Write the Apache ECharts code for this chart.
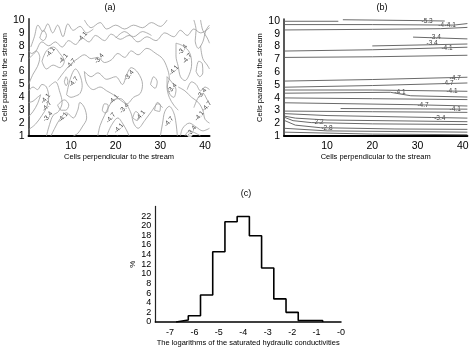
<!DOCTYPE html>
<html><head><meta charset="utf-8">
<script src="https://cdn.jsdelivr.net/npm/echarts@6/dist/echarts.min.js"></script>
<style>html,body{margin:0;padding:0;background:#fff}#c{width:474px;height:349px}</style>
</head><body><div id="c"></div>
<script>
// ---- data ----
const xTicksAB = [10, 20, 30, 40];
const yTicksAB = [1, 2, 3, 4, 5, 6, 7, 8, 9, 10];

// (a) contour lines (cell coordinates)
const contoursA = [
  [[1,7.9],[1.8,8.7],[2.6,9.6],[3.7,9.1],[4.8,9.7],[5.9,9.0],[7,9.6],[8.2,8.7],[9.3,9.7],[10.5,9.2],[12,9.5],[13.5,9.0],[15,9.3]],
  [[13,10],[14.5,9.4],[16.5,9.8],[18,9.3],[20,9.6],[22,9.3],[24,9.6],[26,9.4],[28,9.8],[30,9.5],[31.5,10]],
  [[0.5,7.0],[2,7.5],[3.5,8.3],[5,8.0],[6.5,8.3],[8,7.9],[9.5,8.4],[11,8.1],[12.5,8.6],[14,8.3],[15.5,8.8],[17.5,8.4],[19,8.9],[21,8.5],[23,8.8],[25,8.3],[27,8.7],[29,8.4],[31,9.0],[33,8.7],[34.5,9.2],[36,8.8],[37.5,9.3],[39,9.0],[41,9.4]],
  [[3.5,6.8],[4.5,7.6],[6,7.9],[7.5,7.4],[8.5,6.8],[7.5,6.3],[6,6.5],[4.5,6.2],[3.5,6.8]],
  [[0.5,5.0],[1.5,5.8],[2.5,6.4],[3,7.1],[2.2,7.6],[1.2,7.4],[0.5,7.6]],
  [[7,5.3],[8.5,6.0],[10,6.6],[11.5,7.0],[13,7.3],[14.5,7.0],[16,7.1],[17.5,6.7],[19,6.9],[20.5,7.4],[22,7.1],[23.5,7.6],[25,7.3],[27,7.8],[29,7.4],[30.5,7.0],[31.5,6.3],[32,5.5],[31.5,4.8],[32,4.0],[33,3.4],[34,3.0]],
  [[9,4.2],[9.5,5.0],[10.2,5.8],[11,6.2],[12,5.7],[12.5,4.9],[12,4.3],[11,4.1],[10,4.0],[9,4.2]],
  [[13,6.0],[14.5,5.6],[16,5.9],[18,5.4],[20,5.6],[21.5,5.0],[22.5,5.8],[23.5,6.3],[25,5.9],[26,5.0],[25.5,4.3],[24,4.0],[22.5,3.5],[21,3.8],[19.5,4.2],[18,4.5],[16.5,4.8],[15,4.6],[13.5,5.1],[13,6.0]],
  [[27.8,5.0],[28.5,5.6],[29.3,5.2],[28.8,4.7],[27.8,5.0]],
  [[8.5,5.2],[8.9,5.6],[9.3,5.2],[8.9,4.9],[8.5,5.2]],
  [[38,6.0],[38.6,6.8],[39.4,6.6],[39.5,5.9],[38.8,5.6],[38,6.0]],
  [[37.5,10],[38,9.2],[37.8,8.4],[38.5,7.8],[39.5,8.3],[40.2,9.2],[41,9.6]],
  [[39,10],[39.5,9.2],[40.5,8.6],[41,8.2]],
  [[33.5,8.2],[35,8.0],[36.5,7.5],[37,6.6],[36.5,5.8],[35.5,5.3],[34.5,5.6],[34,6.4],[33.5,7.2],[33.5,8.2]],
  [[34,4.8],[35.5,4.5],[37,4.0],[38.5,3.6],[39.5,3.0],[40,2.3],[41,2.0]],
  [[30,1.0],[30.5,2.0],[31,2.9],[32,3.3],[33,2.8],[33.5,2.0],[33.8,1.0]],
  [[34.5,1.0],[35,1.6],[36.5,2.0],[38,1.7],[39.5,1.4],[41,1.6]],
  [[35.5,1.0],[36.5,1.4],[38,1.2],[39,1.0]],
  [[0.5,1.5],[2,1.9],[3.5,2.6],[4.5,3.2],[5,4.0],[4.5,4.8],[3.5,5.0],[2.5,4.6],[1.5,4.8],[0.5,4.5]],
  [[0.5,2.5],[1.5,2.9],[2.5,3.5],[3.2,4.2],[2.5,4.0],[1.5,3.7],[0.5,3.6]],
  [[5.5,1.0],[6.5,1.7],[7.5,2.3],[9,2.8],[10.5,2.4],[11.5,3.0],[12,3.6],[13,3.2],[13.5,2.4],[12.5,1.7],[11.5,1.2],[10.5,1.0]],
  [[7,3.4],[8.5,3.8],[9.5,3.4],[8.8,3.0],[7.8,3.0],[7,3.4]],
  [[16,1.0],[16.5,1.8],[17.5,2.6],[18.5,3.3],[19.5,3.8],[21,3.9],[22.5,3.4],[23.5,2.7],[24,2.0],[25,1.6],[26.5,2.2],[28,2.9],[29.5,3.5],[30.5,3.2]],
  [[18,1.0],[19,1.8],[20.5,2.4],[21.5,2.0],[22.5,1.4],[23,1.0]],
  [[17,3.0],[17.5,3.5],[18.3,3.4],[18.2,2.9],[17.5,2.8],[17,3.0]],
  [[23.8,2.4],[24.5,2.9],[25.3,2.6],[24.8,2.2],[23.8,2.4]],
  [[28.7,3.0],[29.3,3.6],[30,3.4],[29.8,2.9],[28.7,3.0]],
  [[31.5,5.6],[32.5,5.2],[33.5,4.6],[33,4.0],[32.2,4.2],[31.5,5.0],[31.5,5.6]],
  [[3,8.6],[3.8,9.2],[4.5,8.8],[3.8,8.4],[3,8.6]],
  [[20,8.6],[22,9.1],[24,8.7],[26,9.1],[28,8.8]],
  [[39,8],[39.5,7],[40.5,6.5],[41,6.2]],
  [[36,4.6],[37,5.2],[38,5.0],[39,4.5],[40,4.8],[41,4.6]],
  [[37.5,3.2],[38.5,4.0],[39.5,4.3],[40.5,3.8],[41,3.5]],
  [[5,4.8],[6.5,5.2],[7.5,4.4],[8,3.6],[7.2,2.9],[6,2.6],[5.2,1.9],[4.5,1.0]]
];
const labelsA = [
  [5.4,7.5,'-4.1'],[12.6,8.7,'-4.1'],[8.3,7.0,'-4.1'],[10.0,6.6,'-4.7'],[16.3,7.0,'-3.4'],
  [35,7.7,'-3.4'],[36,7.0,'-4.7'],[33,6.1,'-4.1'],[23,5.7,'-3.4'],[10.6,5.2,'-4.7'],
  [32.6,4.7,'-3.4'],[4.3,3.9,'-4.1'],[4.6,3.3,'-4.7'],[4.8,2.5,'-3.4'],[8.2,2.45,'-4.1'],
  [19.6,3.85,'-4.1'],[21.9,3.15,'-3.4'],[18.9,2.4,'-4.7'],[25.6,2.6,'-4.1'],[20.7,1.6,'-4.1'],
  [31.9,2.1,'-4.7'],[38.7,2.55,'-4.1'],[39.3,4.3,'-3.4'],[40.4,3.3,'-4.7'],[37,1.4,'-3.4']
];

// (b) contour lines
const contoursB = [
  [[0.7,9.98],[12.5,9.98]],
  [[13.5,10.1],[31,10.03],[36,10.0]],
  [[0.7,9.72],[20,9.72],[38,9.68],[41,9.8]],
  [[0.7,9.3],[20,9.35],[35,9.4],[41,9.5]],
  [[29,8.74],[41,8.6]],
  [[20,8.05],[41,8.2]],
  [[0.7,7.65],[20,7.75],[41,7.95]],
  [[0.7,7.15],[20,7.2],[41,7.32]],
  [[0.7,5.3],[20,5.42],[41,5.6]],
  [[0.7,4.82],[20,4.95],[41,5.15]],
  [[0.7,4.6],[20,4.6],[41,4.5]],
  [[0.7,4.35],[24,4.42],[28.5,4.15],[41,4.05]],
  [[0.7,3.98],[20,3.92],[41,3.85]],
  [[0.7,3.6],[29,3.45],[41,3.35]],
  [[13,3.15],[41,3.1]],
  [[0.7,2.95],[20,2.9],[41,2.85]],
  [[0.7,2.75],[10,2.6],[33,2.45],[41,2.4]],
  [[0.7,2.55],[3,2.4],[10,2.25],[41,2.12]],
  [[0.7,2.45],[2.5,2.2],[6.5,2.05],[20,1.95],[41,1.9]],
  [[0.7,2.2],[3,1.85],[8.5,1.65],[25,1.55],[41,1.52]],
  [[0.7,1.6],[10,1.4],[41,1.3]],
  [[0.7,1.3],[20,1.15],[41,1.1]]
];
const labelsB = [
  [32.1,10.0,'-5.3'],[35.8,9.64,'-4.7'],[37.2,9.68,'-4.1'],[33.9,8.77,'-3.4'],[33.2,8.26,'-3.4'],
  [36.5,7.85,'-4.1'],[38.3,5.55,'-4.7'],[36.7,5.12,'-4.7'],[37.6,4.52,'-4.1'],[26.1,4.42,'-4.1'],
  [31.2,3.43,'-4.7'],[38.3,3.1,'-4.1'],[34.9,2.42,'-3.4'],[8,2.05,'-2.2'],[10,1.62,'-2.8']
];

// (c) histogram
const histEdges = [-6.75,-6.25,-5.75,-5.25,-4.75,-4.25,-3.75,-3.25,-2.75,-2.25,-1.75,-1.25,-0.75];
const histValues = [0.4,1.3,5.6,14.6,20.8,21.9,17.9,11.2,4.8,2.0,0.3,0.3];
const histYTicks = [0,2,4,6,8,10,12,14,16,18,20,22];
const histXTicks = [-7,-6,-5,-4,-3,-2,-1,0];

// ---- build ----
const FONT = 'Liberation Sans, Arial, sans-serif';
const chart = echarts.init(document.getElementById('c'), null, {renderer: 'canvas'});

function abX(grid, name) {
  return {
    gridIndex: grid, type: 'value', min: 0.5, max: 41,
    axisLine: {show: true, onZero: false, lineStyle: {color: '#000', width: 2}},
    axisTick: {show: false}, splitLine: {show: false},
    axisLabel: {customValues: xTicksAB, fontSize: 10.5, color: '#000', margin: 5, fontFamily: FONT},
    name: name, nameLocation: 'middle', nameGap: 16,
    nameTextStyle: {fontSize: 7.5, color: '#000', fontFamily: FONT}
  };
}
function abY(grid, max) {
  return {
    gridIndex: grid, type: 'value', min: 1, max: max,
    axisLine: {show: true, onZero: false, lineStyle: {color: '#222', width: 1.5}},
    axisTick: {show: false}, splitLine: {show: false},
    axisLabel: {customValues: yTicksAB, fontSize: 10.5, color: '#000', margin: 4, fontFamily: FONT},
    name: 'Cells parallel to the stream', nameLocation: 'middle', nameGap: 12,
    nameTextStyle: {fontSize: 7.5, color: '#000', fontFamily: FONT}
  };
}

const series = [];
contoursA.forEach(c => series.push({
  type: 'line', xAxisIndex: 0, yAxisIndex: 0, data: c, showSymbol: false, smooth: 0.35,
  silent: true, lineStyle: {color: '#9a9a9a', width: 0.8}, animation: false
}));
series.push({
  type: 'scatter', xAxisIndex: 0, yAxisIndex: 0, symbolSize: 1, silent: true, animation: false,
  itemStyle: {color: 'rgba(0,0,0,0)'},
  data: labelsA.map(l => ({value: [l[0], l[1]], name: l[2]})),
  label: {show: true, position: 'inside', formatter: p => p.name, rotate: 50, fontSize: 6.5,
    color: '#000', fontFamily: FONT, backgroundColor: '#fff', padding: [0, 1]}
});
contoursB.forEach(c => series.push({
  type: 'line', xAxisIndex: 1, yAxisIndex: 1, data: c, showSymbol: false,
  silent: true, lineStyle: {color: '#6a6a6a', width: 1}, animation: false
}));
series.push({
  type: 'scatter', xAxisIndex: 1, yAxisIndex: 1, symbolSize: 1, silent: true, animation: false,
  itemStyle: {color: 'rgba(0,0,0,0)'},
  data: labelsB.map(l => ({value: [l[0], l[1]], name: l[2]})),
  label: {show: true, position: 'inside', formatter: p => p.name, fontSize: 6.5,
    color: '#000', fontFamily: FONT, backgroundColor: '#fff', padding: [0, 1]}
});
const stepData = [[histEdges[0], 0]];
histValues.forEach((v, i) => { stepData.push([histEdges[i], v]); stepData.push([histEdges[i + 1], v]); });
stepData.push([histEdges[histEdges.length - 1], 0]);
series.push({
  type: 'line', xAxisIndex: 2, yAxisIndex: 2, data: stepData, showSymbol: false, silent: true,
  lineStyle: {color: '#000', width: 1.6}, animation: false
});

chart.setOption({
  animation: false,
  backgroundColor: '#fff',
  title: [
    {text: '(a)', left: 105, top: -2, textAlign: 'center', textStyle: {fontSize: 9, fontWeight: 'normal', color: '#000', fontFamily: FONT}},
    {text: '(b)', left: 377, top: -2, textAlign: 'center', textStyle: {fontSize: 9, fontWeight: 'normal', color: '#000', fontFamily: FONT}},
    {text: '(c)', left: 241, top: 184, textAlign: 'center', textStyle: {fontSize: 9, fontWeight: 'normal', color: '#000', fontFamily: FONT}}
  ],
  grid: [
    {left: 27.25, top: 18.7, width: 182.25, height: 117.3},
    {left: 284, top: 19.1, width: 183.4, height: 116.9},
    {left: 155.3, top: 206.4, width: 185.7, height: 115.6}
  ],
  xAxis: [
    abX(0, 'Cells perpendicular to the stream'),
    abX(1, 'Cells perpendicular to the stream'),
    {
      gridIndex: 2, type: 'value', min: -7.6, max: 0,
      axisLine: {show: true, onZero: false, lineStyle: {color: '#000', width: 1.5}},
      axisTick: {show: false}, splitLine: {show: false},
      axisLabel: {customValues: histXTicks, fontSize: 9, color: '#000', margin: 6, fontFamily: FONT,
        formatter: v => (v === 0 ? '-0' : String(v))},
      name: 'The logarithms of the saturated hydraulic conductivities', nameLocation: 'middle', nameGap: 17,
      nameTextStyle: {fontSize: 7.5, color: '#000', fontFamily: FONT}
    }
  ],
  yAxis: [
    abY(0, 10.1),
    abY(1, 10.15),
    {
      gridIndex: 2, type: 'value', min: 0, max: 24,
      axisLine: {show: true, onZero: false, lineStyle: {color: '#222', width: 1.2}},
      axisTick: {show: false}, splitLine: {show: false},
      axisLabel: {customValues: histYTicks, fontSize: 9, color: '#000', margin: 4, fontFamily: FONT},
      name: '%', nameLocation: 'middle', nameGap: 19,
      nameTextStyle: {fontSize: 8, color: '#000', fontFamily: FONT}
    }
  ],
  series: series
});
</script>
</body></html>
